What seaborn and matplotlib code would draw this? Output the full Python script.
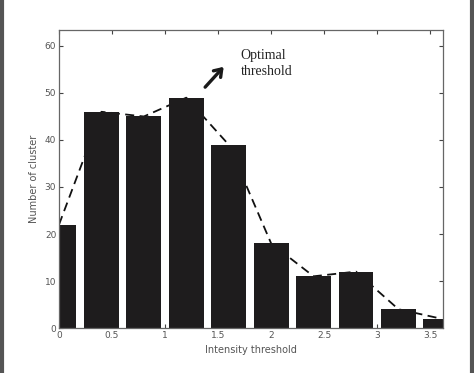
import numpy as np
import pandas as pd
import matplotlib
matplotlib.use('Agg')
import matplotlib.pyplot as plt
import seaborn as sns
from matplotlib.lines import Line2D

# values
thresholds = [0.0, 0.4, 0.8, 1.2, 1.6, 2.0, 2.4, 2.8, 3.2, 3.6]
clusters = [22, 46, 45, 49, 39, 18, 11, 12, 4, 2]
x_ticks = [0, 0.5, 1, 1.5, 2, 2.5, 3, 3.5]
y_ticks = [0, 10, 20, 30, 40, 50, 60]

data = pd.DataFrame({'Intensity threshold': thresholds, 'Number of cluster': clusters})

sns.set_style('ticks')
fig = plt.figure(figsize=(4.74, 3.73), dpi=100)
ax = fig.add_axes([0.1245, 0.1206, 0.810, 0.799])

sns.lineplot(x='Intensity threshold', y='Number of cluster', data=data, color='#111111',
             linestyle=(0, (5, 3)), linewidth=1.3, ax=ax, zorder=1)
sns.barplot(x='Intensity threshold', y='Number of cluster', data=data, native_scale=True,
            color='#1e1c1d', saturation=1, width=0.82, linewidth=0, ax=ax, zorder=2)

ax.set_xlim(0, 3.62)
ax.set_ylim(0, 63.4)
ax.set_xticks(x_ticks)
ax.set_xticklabels(['0', '0.5', '1', '1.5', '2', '2.5', '3', '3.5'])
ax.set_yticks(y_ticks)
ax.tick_params(direction='in', length=3, width=0.8, labelsize=6.5, labelcolor='#555555',
               color='#444444', top=True, right=True, pad=2)
for s in ax.spines.values():
    s.set_color('#666666')
    s.set_linewidth(0.9)
ax.set_xlabel('Intensity threshold', fontsize=7, color='#555555', labelpad=4)
ax.set_ylabel('Number of cluster', fontsize=7, color='#555555', labelpad=4)

ax.annotate('', xy=(1.57, 56.0), xytext=(1.36, 50.8),
            arrowprops=dict(arrowstyle='->,head_length=0.5,head_width=0.35', lw=2.4, color='#1a1a1a'))
ax.text(1.71, 59.4, 'Optimal\nthreshold', fontsize=10, family='Liberation Serif',
        va='top', ha='left', linespacing=1.3, color='#222222')

# scanned page border
fig.add_artist(Line2D([0.004, 0.004], [0, 1], color='#555555', lw=3, transform=fig.transFigure))
fig.add_artist(Line2D([0.996, 0.996], [0, 1], color='#555555', lw=3, transform=fig.transFigure))

plt.savefig('out.png', dpi=100)
